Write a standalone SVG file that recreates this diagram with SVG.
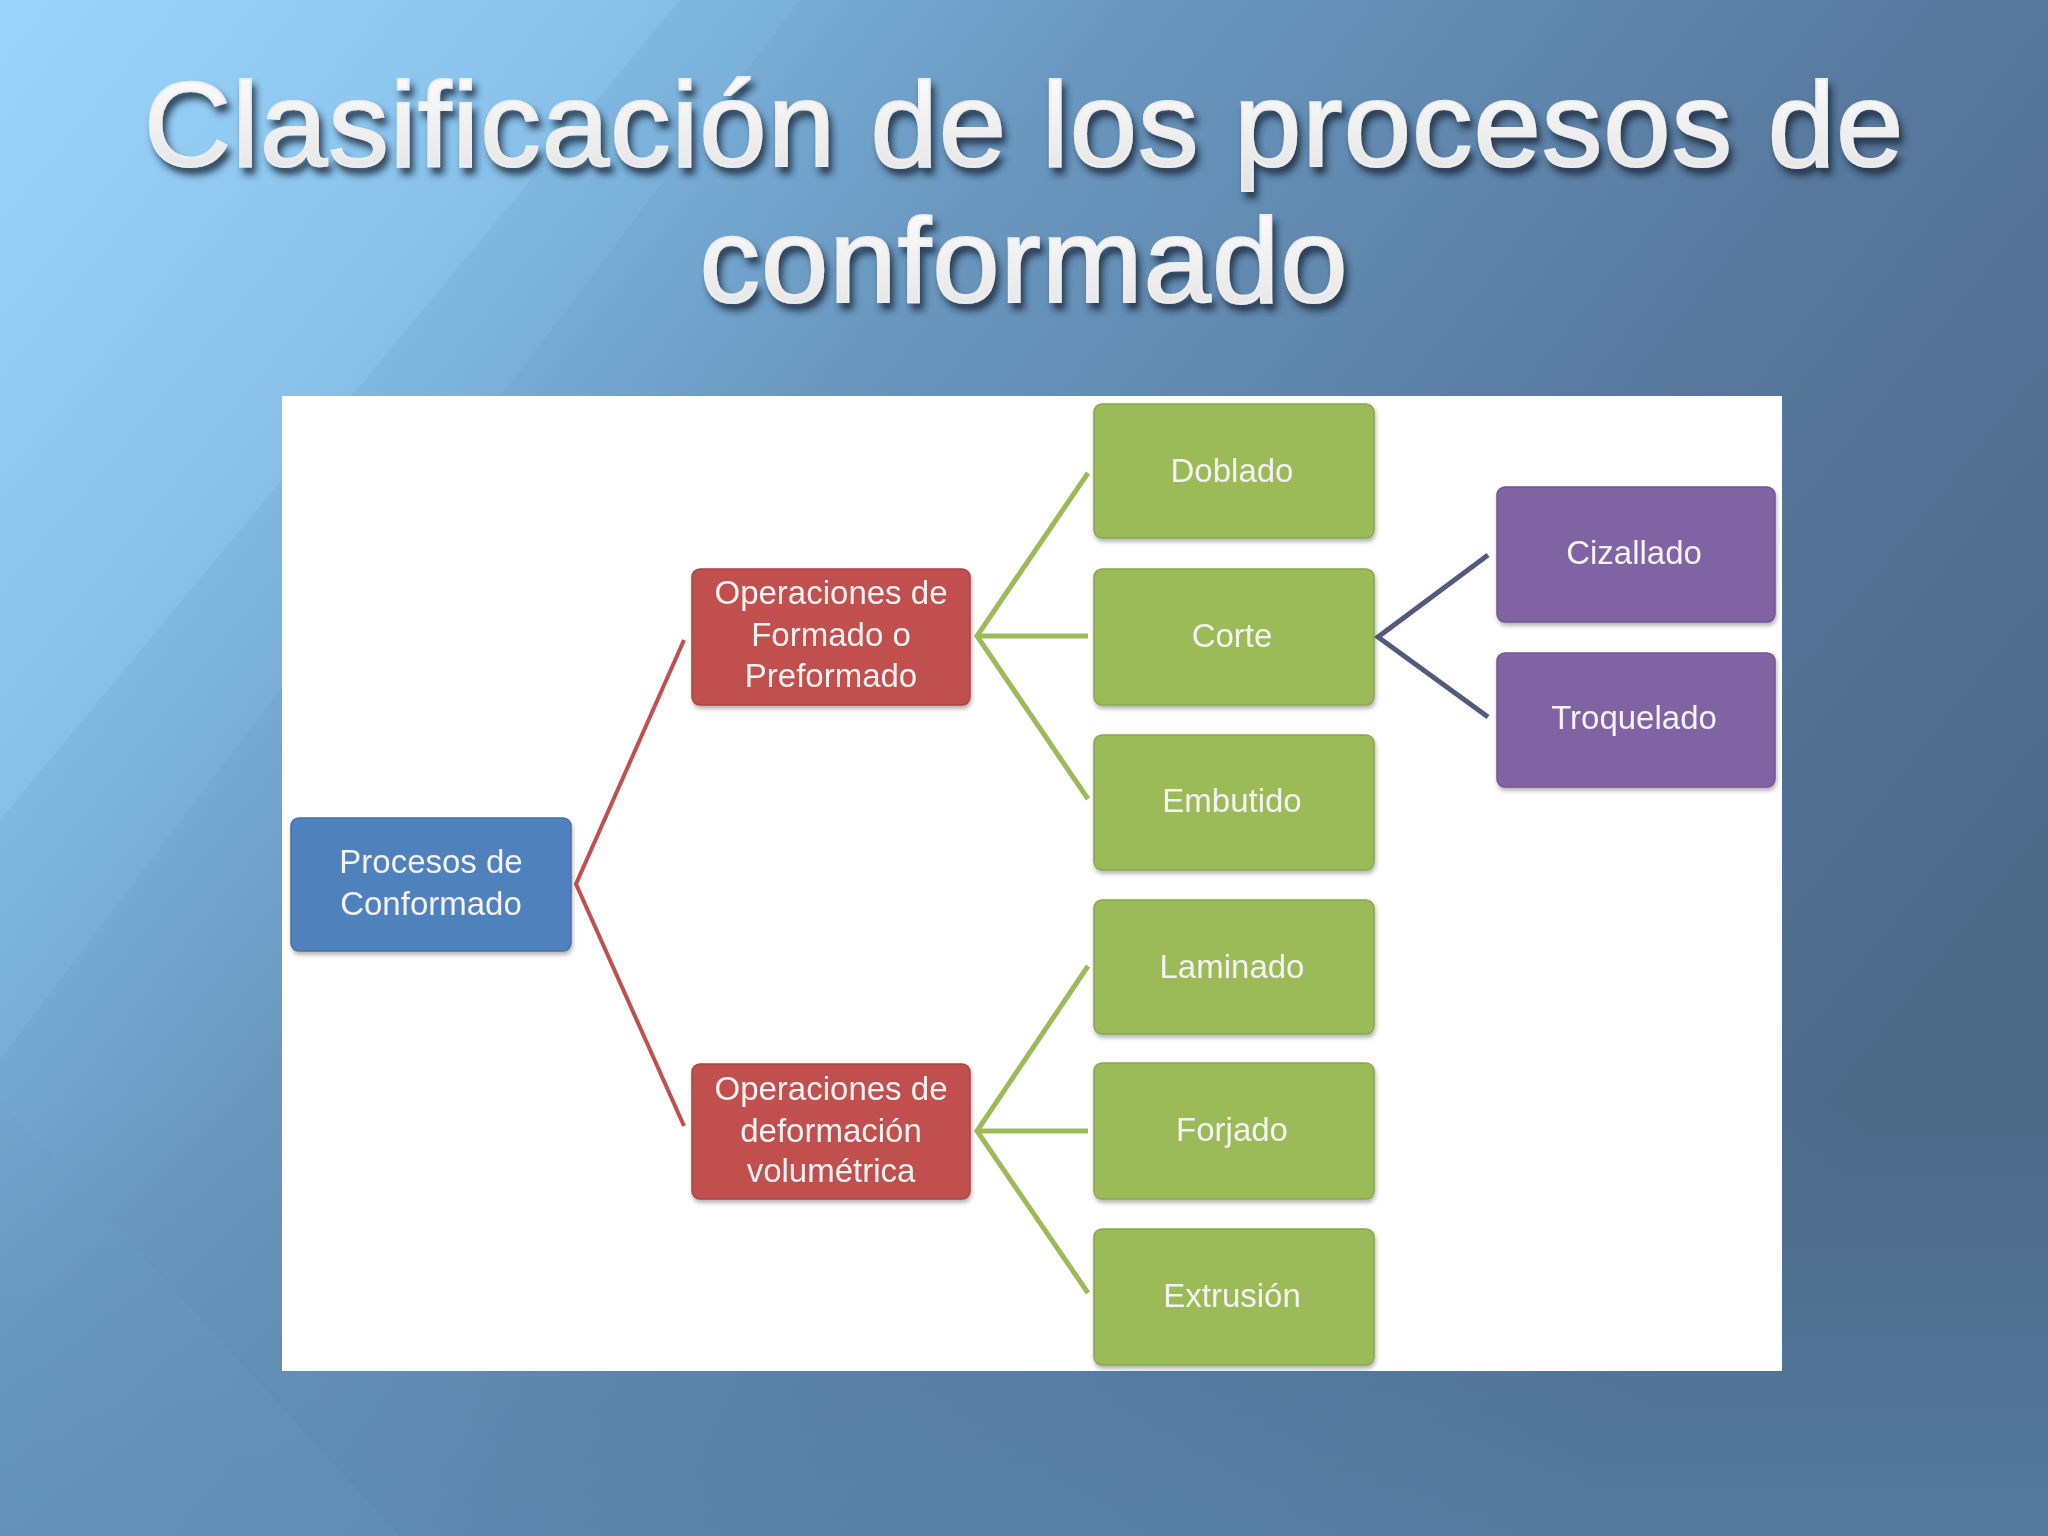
<svg xmlns="http://www.w3.org/2000/svg" width="2048" height="1536" viewBox="0 0 2048 1536">
<defs>
  <linearGradient id="bg" x1="0" y1="0" x2="1" y2="0.6">
    <stop offset="0" stop-color="#8ecdf6"/>
    <stop offset="0.22" stop-color="#7fb8e2"/>
    <stop offset="0.4" stop-color="#6a98c0"/>
    <stop offset="0.7" stop-color="#58799e"/>
    <stop offset="1" stop-color="#4c6887"/>
  </linearGradient>
  <linearGradient id="band" x1="0" y1="0" x2="1" y2="1">
    <stop offset="0" stop-color="#a6dcff" stop-opacity="0.5"/>
    <stop offset="1" stop-color="#8fcaf2" stop-opacity="0.15"/>
  </linearGradient>
  <linearGradient id="bottom" x1="0" y1="0" x2="0" y2="1">
    <stop offset="0" stop-color="#5d8db5" stop-opacity="0"/>
    <stop offset="1" stop-color="#5d8db5" stop-opacity="0.5"/>
  </linearGradient>
  <linearGradient id="tfill" x1="0" y1="0" x2="0" y2="1">
    <stop offset="0" stop-color="#ffffff"/>
    <stop offset="1" stop-color="#e2e2e2"/>
  </linearGradient>
  <filter id="tshadow" x="-5%" y="-20%" width="110%" height="150%">
    <feDropShadow dx="4" dy="7" stdDeviation="3.5" flood-color="#1a2838" flood-opacity="0.8"/>
  </filter>
  <filter id="bshadow" x="-5%" y="-5%" width="115%" height="115%">
    <feDropShadow dx="1" dy="3" stdDeviation="2" flood-color="#000" flood-opacity="0.3"/>
  </filter>
  <style>
    .title { font-family: "Liberation Sans", Arial, sans-serif; font-size: 121px; fill: url(#tfill); stroke: #eeeeee; stroke-width: 2; text-anchor: middle; letter-spacing: 1px; }
    .lbl { font-family: "Liberation Sans", Arial, sans-serif; font-size: 33px; fill: #f4f2f2; text-anchor: middle; }
    .box { filter: url(#bshadow); }
    .blue { fill: #4f81bd; stroke: #44709f; stroke-width: 1.5; }
    .red { fill: #c0504d; stroke: #a84442; stroke-width: 1.5; }
    .green { fill: #9bbb59; stroke: #88a64d; stroke-width: 1.5; }
    .purple { fill: #8064a2; stroke: #6f568e; stroke-width: 1.5; }
    .cr { fill: none; stroke: #c0504d; stroke-width: 4; }
    .cg { fill: none; stroke: #9bbb59; stroke-width: 5; }
    .cp { fill: none; stroke: #525a7e; stroke-width: 5; }
  </style>
</defs>

<!-- background -->
<rect x="0" y="0" width="2048" height="1536" fill="url(#bg)"/>
<polygon points="0,0 680,0 0,820" fill="url(#band)"/>
<polygon points="0,820 680,0 800,0 0,1060" fill="#9fd6fb" opacity="0.1"/>
<polygon points="0,1100 0,1536 400,1536" fill="#6fa0c8" opacity="0.25"/>
<rect x="0" y="1100" width="2048" height="436" fill="url(#bottom)"/>

<!-- title -->
<g id="title" filter="url(#tshadow)">
  <text class="title" x="1024" y="166">Clasificación de los procesos de</text>
  <text class="title" x="1024" y="302">conformado</text>
</g>

<!-- white panel -->
<rect x="282" y="396" width="1500" height="975" fill="#ffffff"/>

<!-- connectors -->
<g id="connectors">
  <polyline class="cr" points="684,640 576,884 684,1126"/>
  <polyline class="cg" points="1088,473 977,636 1088,799"/>
  <line class="cg" x1="977" y1="636" x2="1088" y2="636"/>
  <polyline class="cg" points="1088,966 977,1131 1088,1293"/>
  <line class="cg" x1="977" y1="1131" x2="1088" y2="1131"/>
  <polyline class="cp" points="1488,555 1378,637 1488,717"/>
</g>

<!-- nodes -->
<g id="n-procesos" class="box">
  <rect class="blue" x="291" y="818" width="280" height="133" rx="8"/>
  <text class="lbl" x="431" y="873">Procesos de</text>
  <text class="lbl" x="431" y="915">Conformado</text>
</g>
<g id="n-formado" class="box">
  <rect class="red" x="692" y="569" width="278" height="136" rx="8"/>
  <text class="lbl" x="831" y="604">Operaciones de</text>
  <text class="lbl" x="831" y="646">Formado o</text>
  <text class="lbl" x="831" y="687">Preformado</text>
</g>
<g id="n-volumetrica" class="box">
  <rect class="red" x="692" y="1064" width="278" height="135" rx="8"/>
  <text class="lbl" x="831" y="1100">Operaciones de</text>
  <text class="lbl" x="831" y="1142">deformación</text>
  <text class="lbl" x="831" y="1182">volumétrica</text>
</g>
<g id="n-doblado" class="box">
  <rect class="green" x="1094" y="404" width="280" height="134" rx="8"/>
  <text class="lbl" x="1232" y="482">Doblado</text>
</g>
<g id="n-corte" class="box">
  <rect class="green" x="1094" y="569" width="280" height="136" rx="8"/>
  <text class="lbl" x="1232" y="647">Corte</text>
</g>
<g id="n-embutido" class="box">
  <rect class="green" x="1094" y="735" width="280" height="135" rx="8"/>
  <text class="lbl" x="1232" y="812">Embutido</text>
</g>
<g id="n-laminado" class="box">
  <rect class="green" x="1094" y="900" width="280" height="134" rx="8"/>
  <text class="lbl" x="1232" y="978">Laminado</text>
</g>
<g id="n-forjado" class="box">
  <rect class="green" x="1094" y="1063" width="280" height="136" rx="8"/>
  <text class="lbl" x="1232" y="1141">Forjado</text>
</g>
<g id="n-extrusion" class="box">
  <rect class="green" x="1094" y="1229" width="280" height="136" rx="8"/>
  <text class="lbl" x="1232" y="1307">Extrusión</text>
</g>
<g id="n-cizallado" class="box">
  <rect class="purple" x="1497" y="487" width="278" height="135" rx="8"/>
  <text class="lbl" x="1634" y="564">Cizallado</text>
</g>
<g id="n-troquelado" class="box">
  <rect class="purple" x="1497" y="653" width="278" height="134" rx="8"/>
  <text class="lbl" x="1634" y="729">Troquelado</text>
</g>
</svg>
